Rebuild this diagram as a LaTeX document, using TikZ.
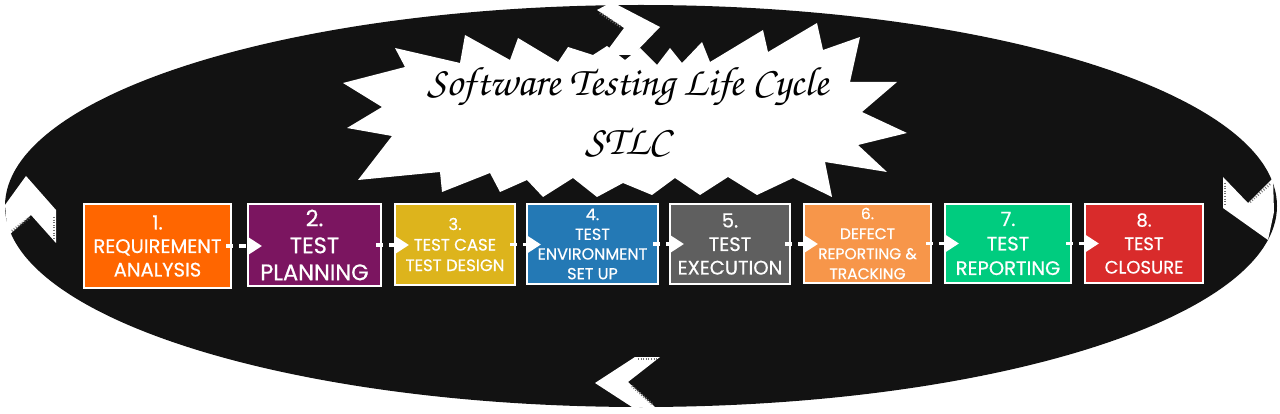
\documentclass[tikz,border=0pt]{standalone}
\usepackage{fontspec}
\setmainfont{Poppins}
\newfontfamily\boxfont{Poppins}[FakeBold=0.6]
\usetikzlibrary{arrows.meta}
\definecolor{ellcol}{HTML}{121212}
\definecolor{c1}{HTML}{FF6600}
\definecolor{c2}{HTML}{7B1560}
\definecolor{c3}{HTML}{DDB41C}
\definecolor{c4}{HTML}{2479B5}
\definecolor{c5}{HTML}{5F5F5F}
\definecolor{c6}{HTML}{F7964A}
\definecolor{c7}{HTML}{00CC7F}
\definecolor{c8}{HTML}{D92B2B}
\tikzset{
  stagebox/.style={draw=white, line width=2pt, text=white, align=center, anchor=north, inner sep=0pt},
  flowarrow/.style={draw=white, line width=3.5pt, dash pattern=on 7pt off 6pt,
    -{Triangle[length=14pt,width=17pt,fill=white]}, shorten <=-6pt, shorten >=-15pt},
  chev/.style={fill=white},
  hatch/.style={draw=black!55, line width=2.5pt, dash pattern=on 0.8pt off 1.8pt},
  titlefont/.style={font=\usefont{OT1}{pzc}{mb}{it}\fontsize{41}{48}\selectfont, anchor=base}
}
\newcommand{\boxsz}[2]{\boxfont\fontsize{#1}{#2}\selectfont}
\begin{document}
\begin{tikzpicture}[x=1pt,y=-1pt]
\useasboundingbox (0,0) rectangle (1280,414);
\fill[white] (0,0) rectangle (1280,414);
% black ellipse
\fill[ellcol] (641,206) ellipse [x radius=636, y radius=201];
% starburst
\fill[white] (395,48) -- (460,63) -- (465,35) -- (510,60) -- (518,38) -- (558,62) -- (568,47) -- (593,55)
  -- (607,46) -- (625,60) -- (640,48) -- (657,65) -- (670,48) -- (682,63) -- (702,42) -- (710,62)
  -- (763,30) -- (768,52) -- (817,23) -- (823,50) -- (860,37) -- (850,82) -- (897,82) -- (862,112)
  -- (907,133) -- (858,145) -- (887,172) -- (825,162) -- (832,197) -- (793,178) -- (757,195) -- (728,177)
  -- (700,195) -- (675,178) -- (652,195) -- (623,183) -- (597,197) -- (573,178) -- (543,197) -- (527,180)
  -- (500,192) -- (490,173) -- (442,192) -- (440,172) -- (358,180) -- (392,136) -- (347,128) -- (382,107)
  -- (343,83) -- (405,67) -- cycle;
% chevrons (clockwise cycle)
\fill[chev] (597,10) -- (612,2) -- (660,27) -- (633,55) -- (604,55) -- (624,28) -- cycle;
\draw[hatch] (600,13) -- (621,27);
\fill[chev] (1223,177) -- (1248,203) -- (1273,178) -- (1274,212) -- (1268,240) -- (1223,208) -- cycle;
\draw[hatch] (1250,202) -- (1270,184);
\draw[hatch, line width=1.5pt] (1225,183) -- (1225,204);
\fill[chev] (595,383) -- (635,357) -- (660,357) -- (628,382) -- (655,407) -- (632,407) -- cycle;
\draw[hatch] (632,386) -- (652,404);
\draw[hatch, line width=1.5pt] (638,359) -- (657,359);
\fill[chev] (26,176) -- (56,210) -- (56,243) -- (31,215) -- (8,236) -- (5,205) -- cycle;
\draw[hatch] (12,231) -- (30,217);
\draw[hatch, line width=1.5pt] (54,217) -- (54,238);
% title
\node[titlefont, text=black] (t1) at (628,96) {Software Testing Life Cycle};
\node[titlefont, text=black] (t2) at (628,155) {STLC};
% stage boxes
\node[stagebox, fill=c1, minimum width=147pt, minimum height=84pt, font=\boxsz{19.5}{23.5}] (b1) at (157.5,203)
  {1.\\REQUIREMENT\\ANALYSIS};
\node[stagebox, fill=c2, minimum width=133pt, minimum height=82pt, font=\boxsz{22.5}{27}] (b2) at (314.5,203)
  {2.\\TEST\\PLANNING};
\node[stagebox, fill=c3, minimum width=120pt, minimum height=81pt, font=\boxsz{16.5}{20.5}] (b3) at (455,203)
  {3.\\TEST CASE\\TEST DESIGN};
\node[stagebox, fill=c4, minimum width=131pt, minimum height=80pt, font=\boxsz{16}{19.7}] (b4) at (592.5,203)
  {4.\\TEST\\ENVIRONMENT\\SET UP};
\node[stagebox, fill=c5, minimum width=120pt, minimum height=80pt, font=\boxsz{19.5}{23.5}] (b5) at (730,203)
  {5.\\TEST\\EXECUTION};
\node[stagebox, fill=c6, minimum width=127pt, minimum height=79pt, font=\boxsz{15.5}{20}] (b6) at (867.5,203)
  {6.\\DEFECT\\REPORTING \&\\TRACKING};
\node[stagebox, fill=c7, minimum width=126pt, minimum height=79pt, font=\boxsz{19.5}{24.5}] (b7) at (1008,203)
  {7.\\TEST\\REPORTING};
\node[stagebox, fill=c8, minimum width=118pt, minimum height=79pt, font=\boxsz{18}{23.5}] (b8) at (1144,203)
  {8.\\TEST\\CLOSURE};
% arrows
\foreach \a/\b in {b1/b2,b2/b3,b3/b4,b4/b5,b5/b6,b6/b7,b7/b8}
  \draw[flowarrow] (\a.east) -- (\a.east -| \b.west);
\end{tikzpicture}
\end{document}
